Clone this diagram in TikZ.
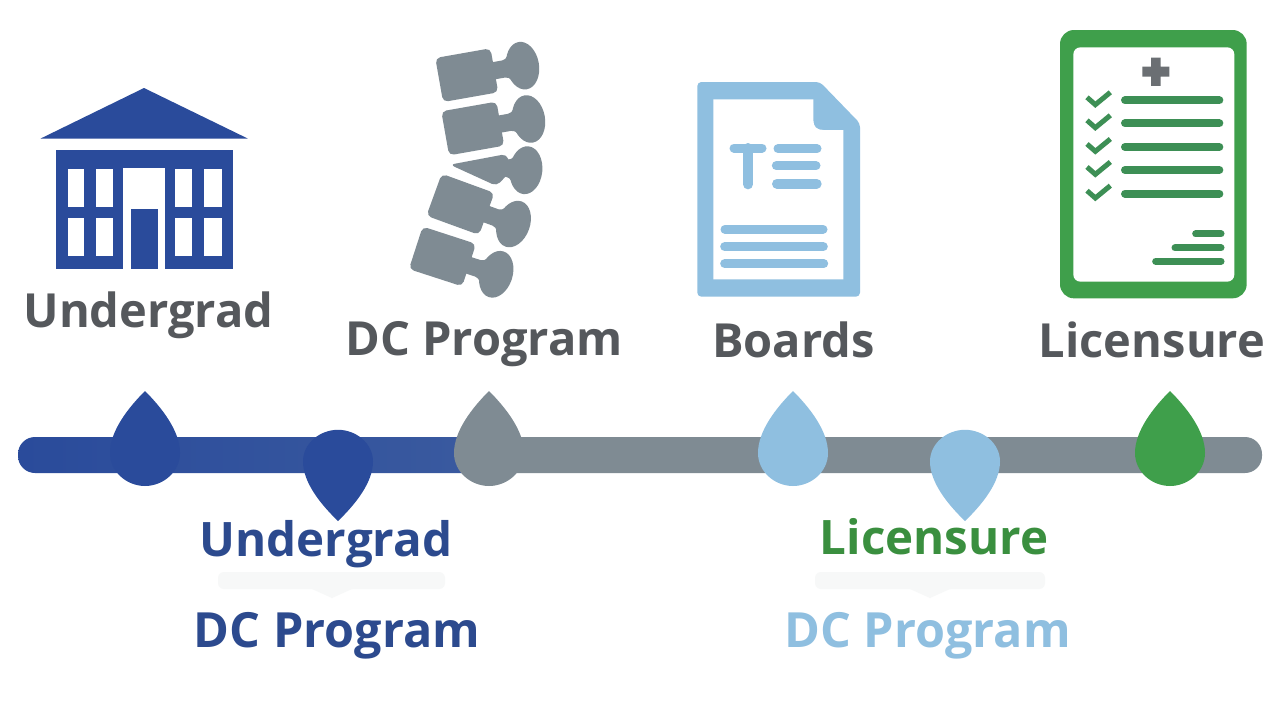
\documentclass[tikz,border=0pt]{standalone}
\usepackage{fontspec}
\setmainfont{Open Sans}
\definecolor{navy}{HTML}{2A4B9B}
\definecolor{navyb}{HTML}{3A5A9F}
\definecolor{navytxt}{HTML}{2C4A8E}
\definecolor{slate}{HTML}{7F8B93}
\definecolor{sky}{HTML}{8FBFE0}
\definecolor{leaf}{HTML}{3F9F4B}
\definecolor{leafd}{HTML}{3D8F55}
\definecolor{leaftxt}{HTML}{3A8F3F}
\definecolor{labelgray}{HTML}{55585C}
\definecolor{crossgray}{HTML}{6B6F73}
\definecolor{ghost}{HTML}{F7F8F8}
\newcommand{\droppath}{(0,0) .. controls (17,17) and (35,40) .. (35,62) .. controls (35,81) and (18,95) .. (0,95) .. controls (-18,95) and (-35,81) .. (-35,62) .. controls (-35,40) and (-17,17) .. (0,0) -- cycle}
\newcommand{\vhead}{%
  \fill (6,0) ellipse [x radius=49,y radius=72];
  \fill (-100,-26) -- (-52,-26) .. controls (-36,-26) and (-32,-44) .. (-12,-62) -- (-12,62) .. controls (-32,44) and (-36,26) .. (-52,26) -- (-100,26) -- cycle;
}
\newcommand{\vbody}{\fill[rounded corners=5pt] (-248,-68) rectangle (-80,66);}
\tikzset{
  x=1pt,y=-1pt,
  toplabel/.style={font=\fontsize{47}{50}\selectfont\bfseries,anchor=base,text=labelgray,inner sep=0pt},
  lowlabel/.style={font=\fontsize{47.5}{50}\selectfont\bfseries,anchor=base,inner sep=0pt},
  lowbig/.style={font=\fontsize{48.5}{50}\selectfont\bfseries,anchor=base,inner sep=0pt},
  docline/.style={line width=9pt,line cap=round,draw=sky},
  formline/.style={line width=8pt,line cap=round,draw=leafd},
  formshort/.style={line width=7pt,line cap=round,draw=leafd},
  tick/.style={line width=5pt,draw=leafd,line join=miter}
}
\begin{document}
\begin{tikzpicture}
\useasboundingbox (0,0) rectangle (1280,720);
\fill[white] (0,0) rectangle (1280,720);

% building
\fill[navy] (144,88) -- (247.7,138.5) -- (40.7,138.5) -- cycle;
\fill[navy] (56,150) rectangle (232.5,268.5);
\fill[white] (123,168.3) rectangle (165,268.5);
\fill[navy] (130.7,209.3) rectangle (157.7,268.5);
\foreach \xa/\xb in {67.7/84.3,96/113.3,175/192.3,204.3/221.7}
  \foreach \ya/\yb in {169/206.7,217.7/255.7}
    \fill[white] (\xa,\ya) rectangle (\xb,\yb);

% spine
\begin{scope}[shift={(400,30)},scale=1/3,fill=slate]
  \begin{scope}[shift={(362,108)},rotate=10]\vbody\vhead\end{scope}
  \begin{scope}[shift={(380,268)},rotate=10]\vbody\vhead\end{scope}
  \fill[rounded corners=5pt] (150,404) -- (320,372) -- (335,420) -- (290,468) -- cycle;
  \begin{scope}[shift={(372,420)},rotate=-6]\vhead\end{scope}
  \begin{scope}[shift={(335,580)},rotate=-20]\vbody\vhead\end{scope}
  \begin{scope}[shift={(283,731)},rotate=-18]\vbody\vhead\end{scope}
\end{scope}

% document
\begin{scope}[shift={(680,70)},scale=1/3]
  \fill[sky,rounded corners=4pt] (52,36) -- (420,36) -- (540,160) -- (540,680) -- (52,680) -- cycle;
  \fill[white] (100,88) -- (400,88) -- (400,150) .. controls (400,170) and (410,180) .. (430,180) -- (490,180) -- (490,628) -- (100,628) -- cycle;
  \draw[docline] (162,234) -- (246,234);
  \draw[docline,line width=10pt] (204,234) -- (204,343);
  \draw[docline] (294,236) -- (411,236);
  \draw[docline] (289,287) -- (408,287);
  \draw[docline,line width=10pt] (291,341) -- (410,341);
  \draw[docline] (135,478) -- (429,478);
  \draw[docline] (134,530) -- (430,530);
  \draw[docline] (134,581) -- (431,581);
\end{scope}

% licence form
\begin{scope}[shift={(1040,20)},scale=1/3]
  \fill[leaf,rounded corners=14pt] (60,30) rectangle (620,835);
  \fill[white,rounded corners=7pt] (100,82) rectangle (583,785);
  \fill[crossgray] (333,113) -- (362,113) -- (362,140) -- (388,140) -- (388,170) -- (362,170) -- (362,198) -- (333,198) -- (333,170) -- (307,170) -- (307,140) -- (333,140) -- cycle;
  \foreach \y in {241,310,381,450,521} {
    \draw[formline] (255,\y) -- (538,\y);
    \draw[tick] (141,{\y-9}) -- (166,{\y+13}) -- (211,{\y-24});
  }
  \draw[formshort] (467,642) -- (543,642);
  \draw[formshort] (405,684) -- (543,684);
  \draw[formshort] (347,724) -- (543,724);
\end{scope}

% timeline
\fill[slate,rounded corners=17pt] (470,437) rectangle (1262,473);
\shade[left color=navy,right color=navyb,rounded corners=17pt] (18,437) rectangle (489,473);

\fill[navy,shift={(145,391)}] \droppath;
\fill[navy,shift={(338,521)},yscale=-0.96] \droppath;
\fill[slate,shift={(489,391)}] \droppath;
\fill[sky,shift={(793,391)}] \droppath;
\fill[sky,shift={(965,521)},yscale=-0.96] \droppath;
\fill[leaf,shift={(1170,391)}] \droppath;

% faint bands
\fill[ghost,rounded corners=6pt] (218,572) rectangle (445,589);
\fill[ghost] (312,589) -- (352,589) -- (332,598) -- cycle;
\fill[ghost,rounded corners=6pt] (815,572) rectangle (1045,589);
\fill[ghost] (910,589) -- (950,589) -- (930,598) -- cycle;

% labels
\node[toplabel] (topUndergrad) at (148.5,327) {Undergrad};
\node[toplabel] (topDC) at (484,355) {DC Program};
\node[toplabel] (topBoards) at (793.5,357) {Boards};
\node[toplabel] (topLicensure) at (1152,357) {Licensure};
\node[lowlabel,text=navytxt] (lowUndergrad) at (326,556) {Undergrad};
\node[lowbig,text=navytxt] (lowDC) at (337,647) {DC Program};
\node[lowlabel,text=leaftxt] (lowLicensure) at (934,554) {Licensure};
\node[lowbig,text=sky] (lowDCb) at (927.5,647) {DC Program};
\end{tikzpicture}
\end{document}
